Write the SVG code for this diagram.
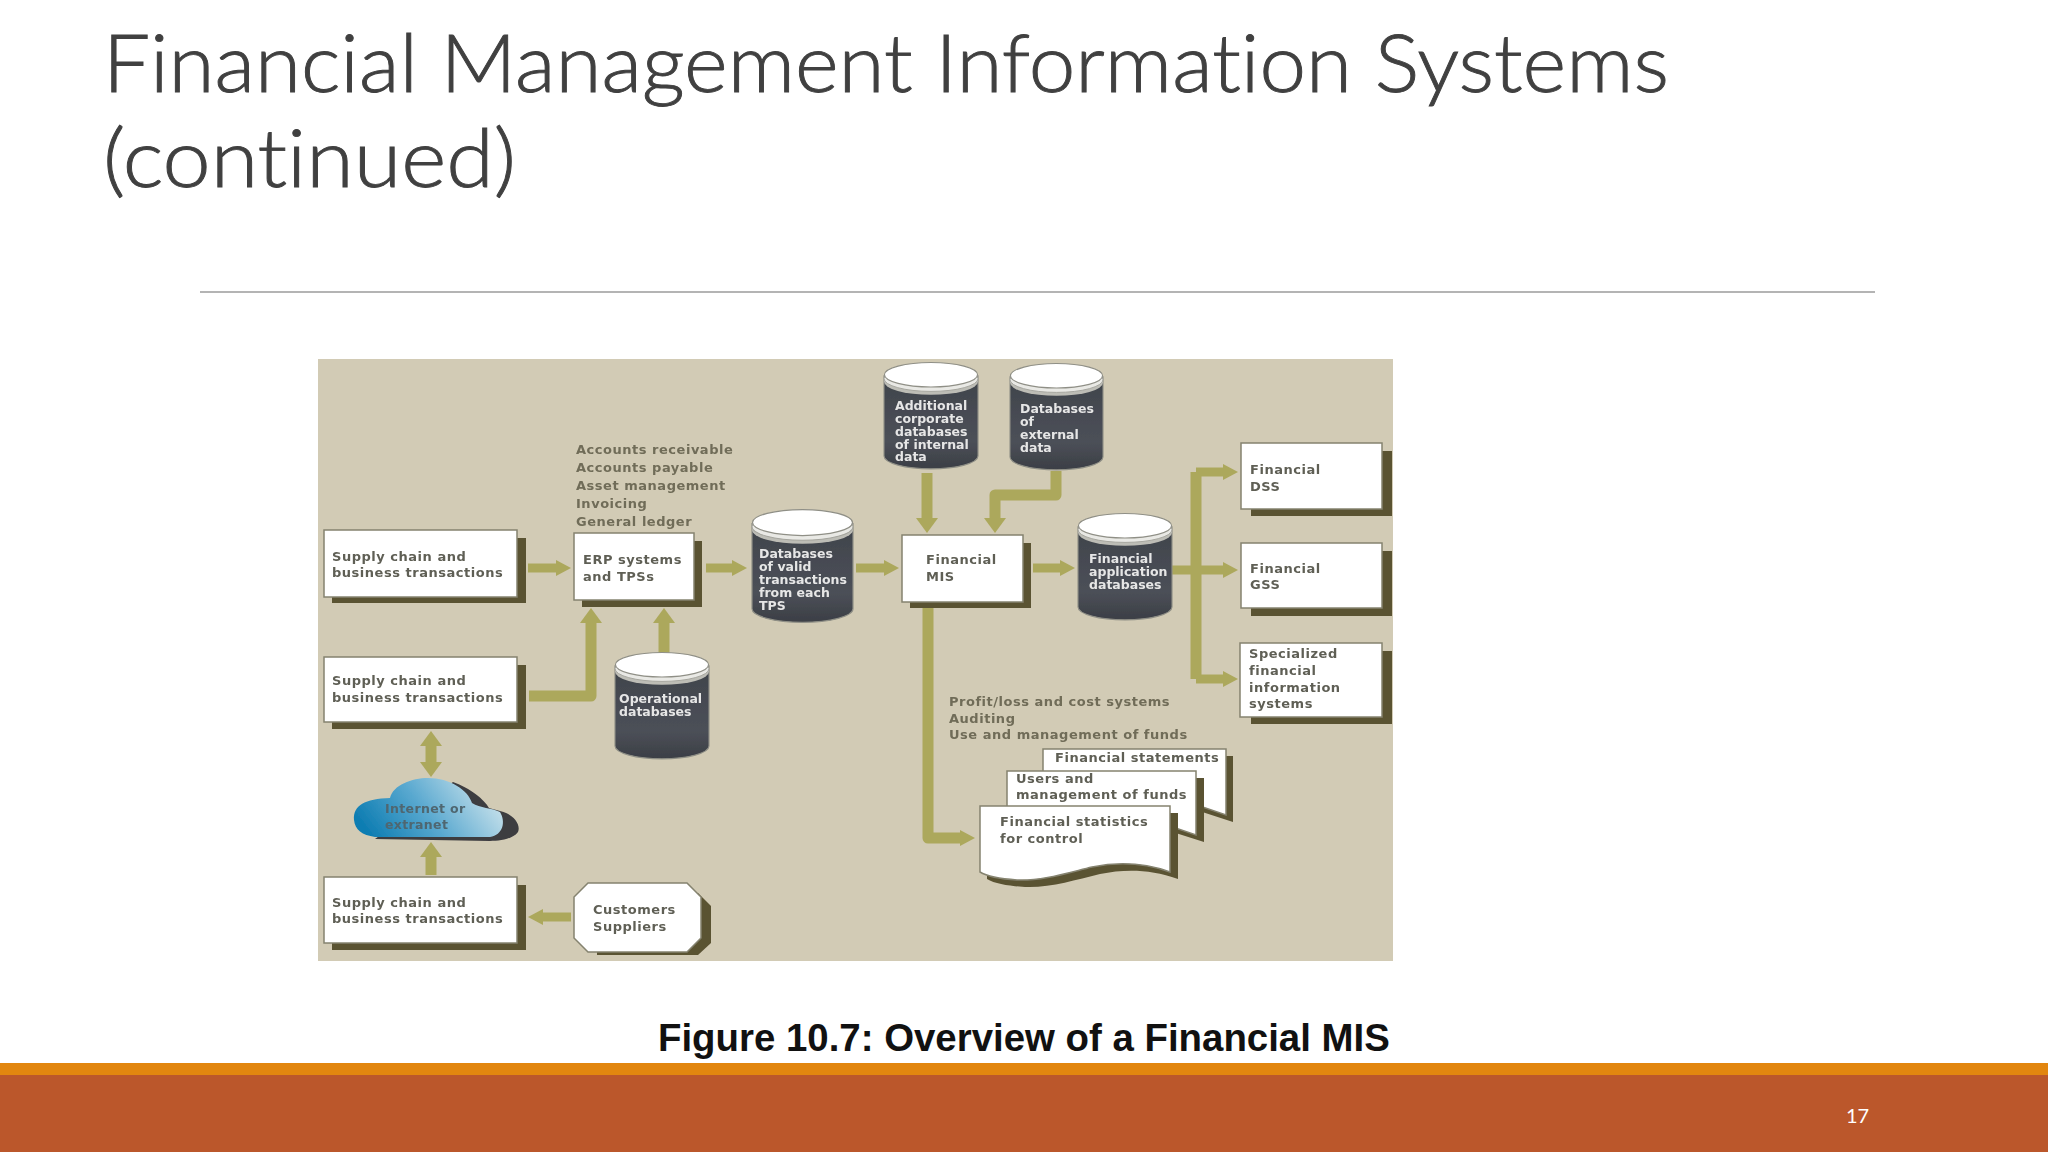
<svg xmlns="http://www.w3.org/2000/svg" xmlns:xlink="http://www.w3.org/1999/xlink" width="2048" height="1152" viewBox="0 0 2048 1152">
<style>
.title{font-family:"Lato","Open Sans",sans-serif;font-weight:300;font-size:80px;fill:#404040;stroke:#404040;stroke-width:0.9px;font-variant-ligatures:none}
.t{font-family:"DejaVu Sans",sans-serif;font-weight:700;font-size:13px;letter-spacing:0.52px}
.dk{fill:#5f5f55}.lb{fill:#706c58}.wh{fill:#e6e6e6;font-size:12.5px;letter-spacing:0}.cl{fill:#4f6670;font-size:12.5px;letter-spacing:0.35px}
.box{fill:#fff;stroke:#85836f;stroke-width:1.5}
.sh{fill:#5a5233}
.arr{fill:none;stroke:#aca85c;stroke-width:11;stroke-linejoin:round}
.thin{stroke-width:9}
.cap{font-family:"Liberation Sans",Arial,sans-serif;font-weight:700;font-size:38.4px;fill:#111}
</style>
<defs>
<filter id="soft" x="-2%" y="-2%" width="104%" height="104%"><feGaussianBlur stdDeviation="0.6"/></filter>
<marker id="h" markerUnits="userSpaceOnUse" markerWidth="16" markerHeight="24" refX="1" refY="12" orient="auto-start-reverse"><path d="M0,1 L15,12 L0,23 Z" fill="#aca85c"/></marker>
<marker id="hs" markerUnits="userSpaceOnUse" markerWidth="16" markerHeight="20" refX="1" refY="10" orient="auto"><path d="M0,2 L15,10 L0,18 Z" fill="#aca85c"/></marker>
<linearGradient id="dbg" x1="0" y1="0" x2="0" y2="1"><stop offset="0" stop-color="#3f434b"/><stop offset="0.7" stop-color="#4c5058"/><stop offset="1" stop-color="#3b3e45"/></linearGradient>
<linearGradient id="cg" x1="0" y1="0.6" x2="1" y2="0.3"><stop offset="0" stop-color="#0e7db2"/><stop offset="0.45" stop-color="#5aa9d0"/><stop offset="1" stop-color="#d3e7ee"/></linearGradient>
<g id="cyl">
<path d="M0,14 V96 A50,13 0 0 0 100,96 V14 Z" fill="url(#dbg)" stroke="#8f8f86" stroke-width="1.2"/>
<ellipse cx="50" cy="20" rx="50" ry="13.5" fill="#bdbdb6"/>
<ellipse cx="50" cy="17" rx="50" ry="13" fill="#e9e9e5" stroke="#a5a59e" stroke-width="1"/>
<ellipse cx="50" cy="13" rx="49.5" ry="12.5" fill="#fff" stroke="#8f8f86" stroke-width="1.2"/>
</g>
</defs>
<rect width="2048" height="1152" fill="#fff"/>
<g id="slide-title">
<text class="title" x="103" y="92" textLength="1566" lengthAdjust="spacingAndGlyphs">Financial Management Information Systems</text>
<text class="title" x="103" y="187" textLength="413" lengthAdjust="spacingAndGlyphs">(continued)</text>
</g>
<rect x="200" y="291" width="1675" height="2" fill="#b4b4b4"/>
<g filter="url(#soft)">
<rect id="panel" x="318" y="359" width="1075" height="602" fill="#d2cbb5"/>
<g id="connectors">
<path class="arr thin" d="M528,568 H557" marker-end="url(#hs)"/>
<path class="arr thin" d="M706,568 H733" marker-end="url(#hs)"/>
<path class="arr thin" d="M856,568 H885" marker-end="url(#hs)"/>
<path class="arr thin" d="M1033,568 H1061" marker-end="url(#hs)"/>
<path class="arr thin" d="M1172,570 H1224" marker-end="url(#hs)"/>
<path class="arr thin" d="M1196,472 H1224" marker-end="url(#hs)"/>
<path class="arr thin" d="M1196,679 H1224" marker-end="url(#hs)"/>
<path class="arr" d="M1196,472 V679"/>
<path class="arr" d="M529,696 H591 V622" marker-end="url(#h)"/>
<path class="arr" d="M664,622 V658" marker-start="url(#h)" marker-end="url(#h)"/>
<path class="arr" d="M431,745 V763" marker-start="url(#h)" marker-end="url(#h)"/>
<path class="arr" d="M431,875 V856" marker-end="url(#h)"/>
<path class="arr thin" d="M571,917 H542" marker-end="url(#hs)"/>
<path class="arr" d="M927,473 V519" marker-end="url(#h)"/>
<path class="arr" d="M1056,471 V495 H995 V519" marker-end="url(#h)"/>
<path class="arr" d="M928,608 V838 H961" marker-end="url(#hs)"/>
</g>
<g id="supply1">
<rect class="sh" x="332" y="538" width="194" height="65"/><rect class="box" x="324" y="530" width="193" height="67"/>
<text class="t dk" x="332" y="561">Supply chain and</text><text class="t dk" x="332" y="577">business transactions</text>
</g>
<g id="supply2">
<rect class="sh" x="332" y="665" width="194" height="64"/><rect class="box" x="324" y="657" width="193" height="65"/>
<text class="t dk" x="332" y="685">Supply chain and</text><text class="t dk" x="332" y="702">business transactions</text>
</g>
<g id="supply3">
<rect class="sh" x="332" y="885" width="194" height="65"/><rect class="box" x="324" y="877" width="193" height="66"/>
<text class="t dk" x="332" y="907">Supply chain and</text><text class="t dk" x="332" y="923">business transactions</text>
</g>
<g id="erp">
<rect class="sh" x="582" y="541" width="120" height="66"/><rect class="box" x="574" y="533" width="120" height="67"/>
<text class="t dk" x="583" y="564">ERP systems</text><text class="t dk" x="583" y="581">and TPSs</text>
</g>
<g id="erp-functions">
<text class="t lb" x="576" y="454">Accounts receivable</text>
<text class="t lb" x="576" y="472">Accounts payable</text>
<text class="t lb" x="576" y="490">Asset management</text>
<text class="t lb" x="576" y="508">Invoicing</text>
<text class="t lb" x="576" y="526">General ledger</text>
</g>
<g id="db-valid">
<use href="#cyl" transform="translate(752,509) scale(1.01,1.04)"/>
<text class="t wh" x="759" y="558">Databases</text><text class="t wh" x="759" y="571">of valid</text><text class="t wh" x="759" y="584">transactions</text><text class="t wh" x="759" y="597">from each</text><text class="t wh" x="759" y="610">TPS</text>
</g>
<g id="db-operational">
<use href="#cyl" transform="translate(615,652) scale(0.94,0.98)"/>
<text class="t wh" x="619" y="703">Operational</text><text class="t wh" x="619" y="716">databases</text>
</g>
<g id="db-internal">
<use href="#cyl" transform="translate(884,362) scale(0.94,0.98)"/>
<text class="t wh" x="895" y="410">Additional</text><text class="t wh" x="895" y="423">corporate</text><text class="t wh" x="895" y="436">databases</text><text class="t wh" x="895" y="449">of internal</text><text class="t wh" x="895" y="461">data</text>
</g>
<g id="db-external">
<use href="#cyl" transform="translate(1010,363) scale(0.93,0.98)"/>
<text class="t wh" x="1020" y="413">Databases</text><text class="t wh" x="1020" y="426">of</text><text class="t wh" x="1020" y="439">external</text><text class="t wh" x="1020" y="452">data</text>
</g>
<g id="financial-mis">
<rect class="sh" x="910" y="543" width="121" height="65"/><rect class="box" x="902" y="535" width="121" height="67"/>
<text class="t dk" x="926" y="564">Financial</text><text class="t dk" x="926" y="581">MIS</text>
</g>
<g id="db-application">
<use href="#cyl" transform="translate(1078,513) scale(0.94,0.98)"/>
<text class="t wh" x="1089" y="563">Financial</text><text class="t wh" x="1089" y="576">application</text><text class="t wh" x="1089" y="589">databases</text>
</g>
<g id="dss">
<rect class="sh" x="1251" y="451" width="141" height="65"/><rect class="box" x="1241" y="443" width="141" height="66"/>
<text class="t dk" x="1250" y="474">Financial</text><text class="t dk" x="1250" y="491">DSS</text>
</g>
<g id="gss">
<rect class="sh" x="1251" y="551" width="141" height="65"/><rect class="box" x="1241" y="543" width="141" height="65"/>
<text class="t dk" x="1250" y="573">Financial</text><text class="t dk" x="1250" y="589">GSS</text>
</g>
<g id="specialized">
<rect class="sh" x="1251" y="651" width="141" height="73"/><rect class="box" x="1240" y="643" width="142" height="74"/>
<text class="t dk" x="1249" y="658">Specialized</text><text class="t dk" x="1249" y="675">financial</text><text class="t dk" x="1249" y="692">information</text><text class="t dk" x="1249" y="708">systems</text>
</g>
<g id="mis-functions">
<text class="t lb" x="949" y="706">Profit/loss and cost systems</text>
<text class="t lb" x="949" y="723">Auditing</text>
<text class="t lb" x="949" y="739">Use and management of funds</text>
</g>
<g id="doc-statements">
<path class="sh" d="M1050,756 H1233 V822 L1190,808 H1050 Z"/>
<path class="box" d="M1043,749 H1226 V815 L1185,801 H1043 Z"/>
<text class="t dk" x="1055" y="762">Financial statements</text>
</g>
<g id="doc-users">
<path class="sh" d="M1014,778 H1204 V842 L1160,828 H1014 Z"/>
<path class="box" d="M1007,771 H1196 V835 L1155,821 H1007 Z"/>
<text class="t dk" x="1016" y="783">Users and</text><text class="t dk" x="1016" y="799">management of funds</text>
</g>
<g id="doc-statistics">
<path class="sh" d="M987,813 H1178 V879 C1150,869 1125,869 1100,874 C1075,880 1050,888 1025,887 C1010,886 995,884 987,879 Z"/>
<path class="box" d="M980,806 H1170 V872 C1142,862 1117,862 1092,867 C1067,873 1042,881 1017,880 C1002,879 988,877 980,872 Z"/>
<text class="t dk" x="1000" y="826">Financial statistics</text><text class="t dk" x="1000" y="843">for control</text>
</g>
<g id="cloud">
<path d="M453,782 C470,788 485,800 489,808 L500,811 C514,814 521,825 518,832 C513,839 500,841 490,841 L375,839 Z" fill="#3d3c40"/>
<path d="M354,820 C353,805 365,799 390,798 C393,785 412,778 428,778 C450,778 468,790 472,803 C480,808 492,808 500,812 C506,822 503,835 490,837 L375,837 C362,835 355,830 354,820 Z" fill="url(#cg)"/>
<text class="t cl" x="385" y="813">Internet or</text><text class="t cl" x="385" y="829">extranet</text>
</g>
<g id="customers">
<path class="sh" d="M597,893 H698 L711,906 V943 L698,955 H597 Z"/>
<path class="box" d="M588,883 H687 L701,897 V938 L687,952 H588 L574,938 V897 Z"/>
<text class="t dk" x="593" y="914">Customers</text><text class="t dk" x="593" y="931">Suppliers</text>
</g>
</g>
<text id="caption" class="cap" x="658" y="1051">Figure 10.7: Overview of a Financial MIS</text>
<g id="footer">
<rect x="0" y="1063" width="2048" height="12" fill="#e2860f"/>
<rect x="0" y="1075" width="2048" height="77" fill="#bb572b"/>
<text x="1846" y="1123" font-family="Lato,'Open Sans',sans-serif" font-size="20" fill="#fff">17</text>
</g>
</svg>
